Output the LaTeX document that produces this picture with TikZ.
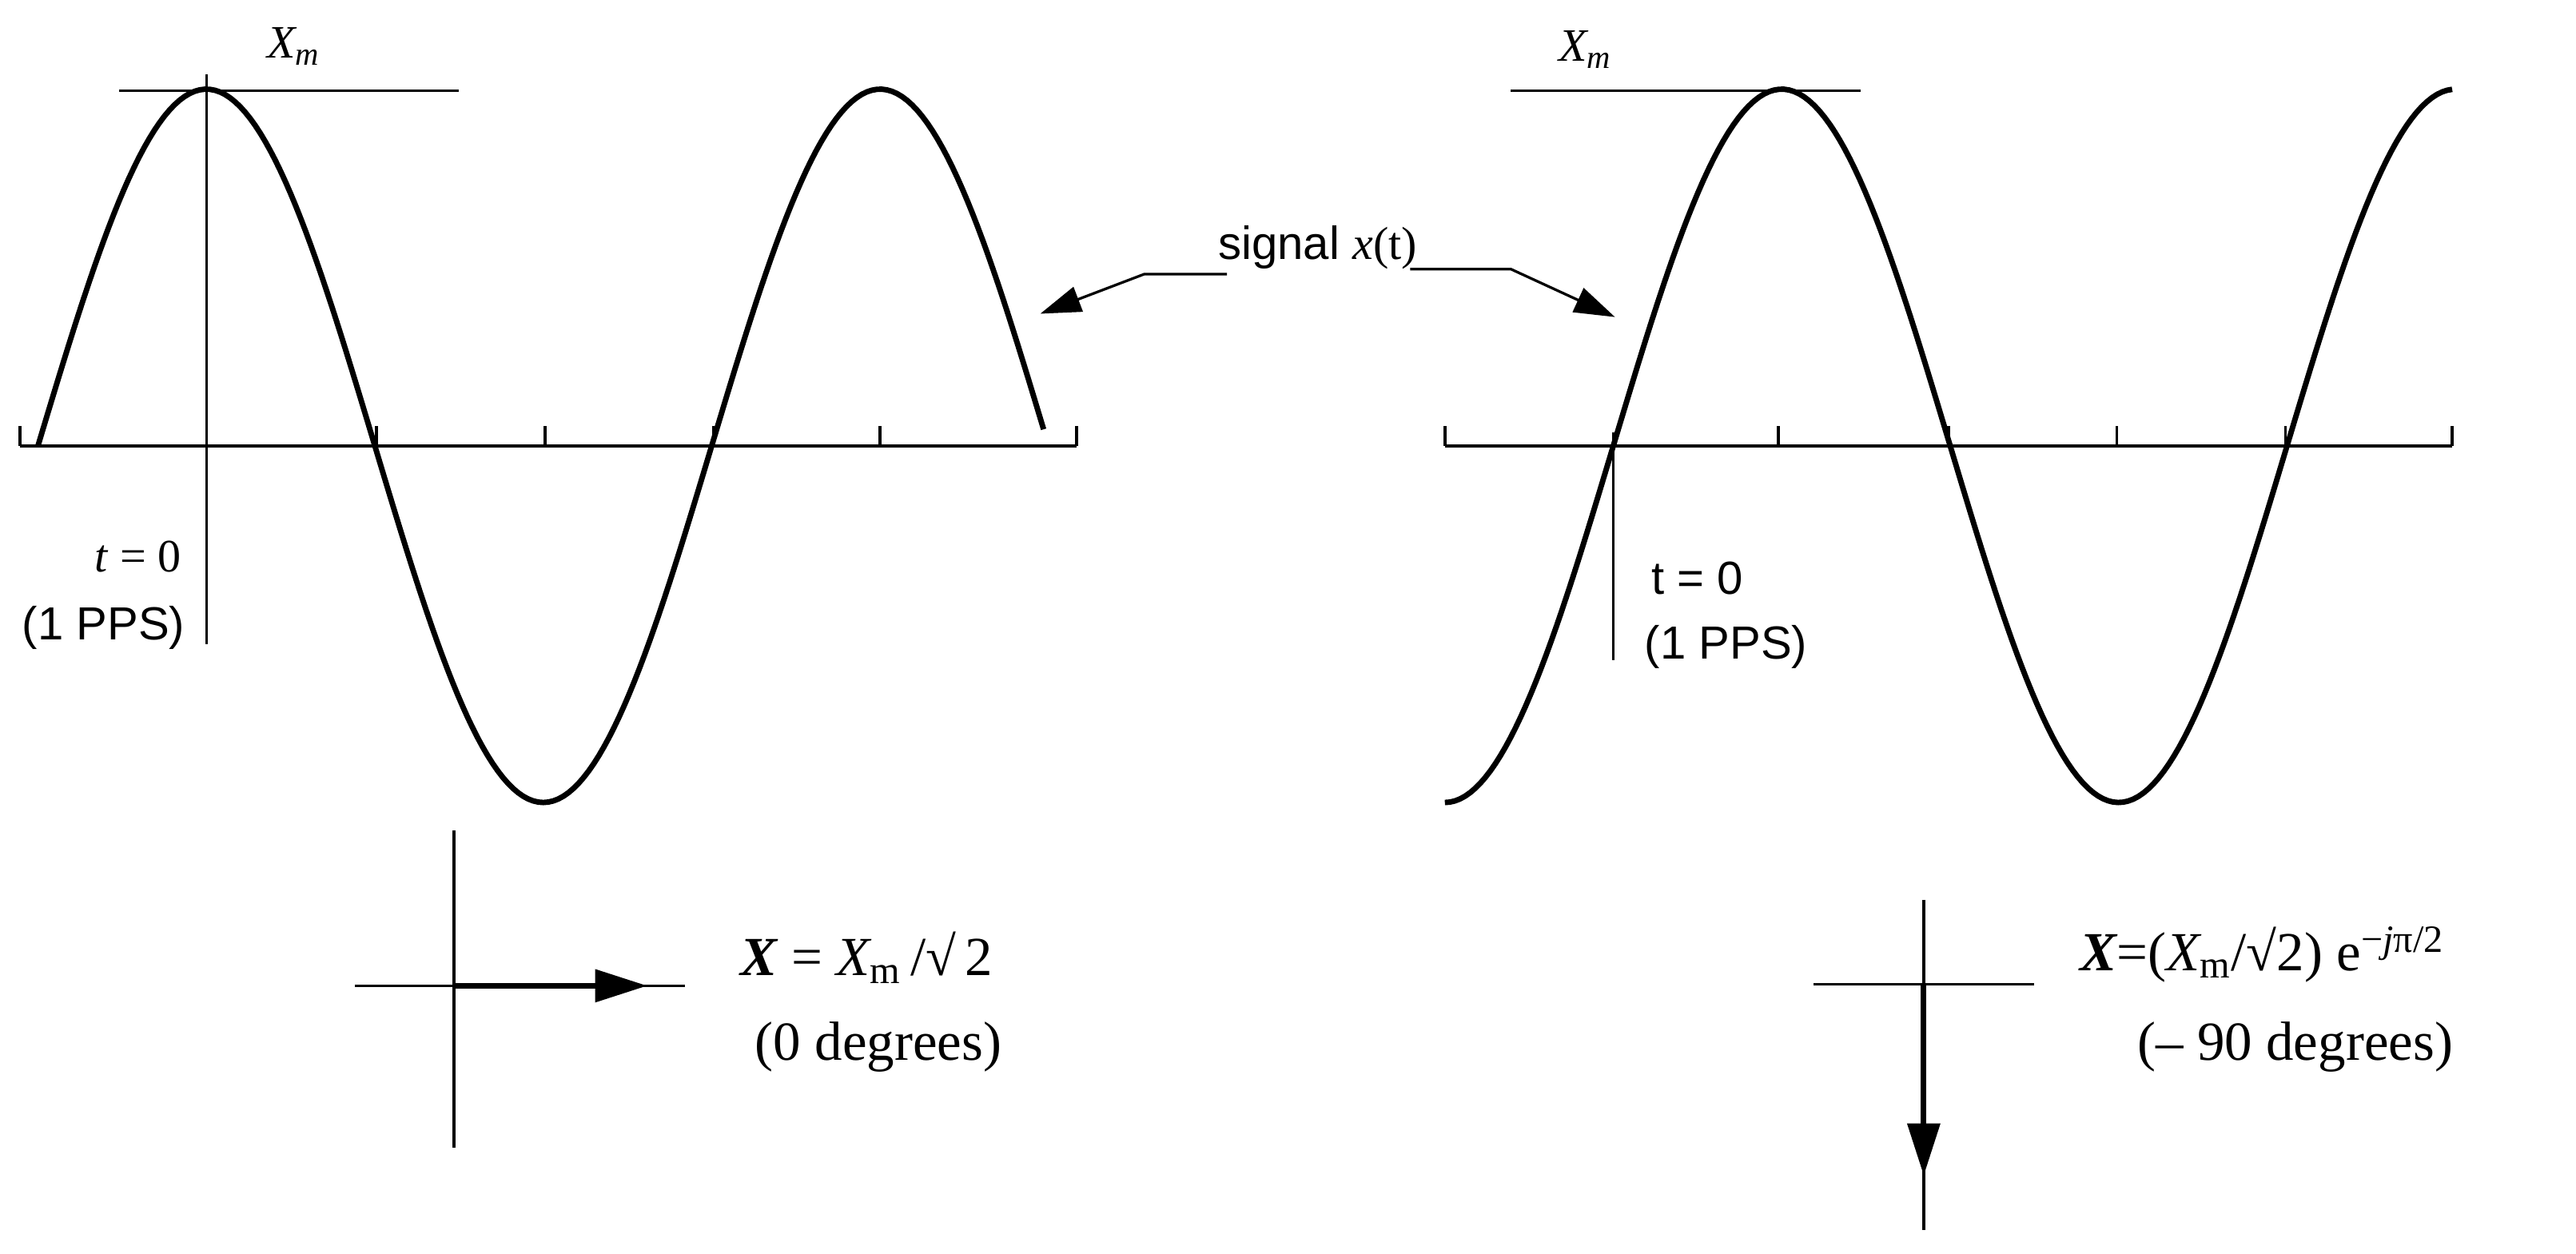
\documentclass[tikz,border=0pt]{standalone}
\usepackage{fontspec}
\setmainfont{Liberation Serif}
\setsansfont{Liberation Sans}
\usetikzlibrary{arrows.meta}
\begin{document}
\begin{tikzpicture}[x=0.02cm,y=-0.02cm,
  curve/.style={line width=1.9pt},
  axis/.style={line width=1pt},
  thin/.style={line width=0.7pt},
  lbl/.style={inner sep=1pt,font=\fontsize{16}{18}\selectfont},
  sflbl/.style={inner sep=1pt,font=\fontsize{16}{18}\selectfont\sffamily},
  big/.style={inner sep=1pt,font=\fontsize{19}{22}\selectfont},
  ptr/.style={line width=0.9pt,-{Triangle[length=14pt,width=9pt]}},
  phas/.style={line width=1.9pt,-{Triangle[length=18pt,width=11pt]}}]
\useasboundingbox (0,0) rectangle (1560,759);
% left plot
\draw[axis] (12,270) -- (652,270);
\foreach \t in {12,228,330,432,533,652} \draw[axis] (\t,258) -- (\t,270);
\draw[thin] (125,45) -- (125,390);
\draw[thin] (72,55) -- (278,55);
\node[lbl] (xm1) at (178,28) {\itshape X\textsubscript{m}};
\draw[curve] plot[domain=23:632,samples=200] (\x,{270-216*cos((\x-125)/408*360)});
\node[lbl,anchor=east] (t1) at (112,337) {\itshape t\/\upshape\ = 0};
\node[sflbl,anchor=east] (p1) at (114,380) {(1 PPS)};
% right plot
\draw[axis] (875,270) -- (1485,270);
\foreach \t in {875,1077,1180,1282,1384,1485} \draw[axis] (\t,258) -- (\t,270);
\draw[thin] (977,262) -- (977,400);
\draw[thin] (915,55) -- (1127,55);
\node[lbl] (xm2) at (960,30) {\itshape X\textsubscript{m}};
\draw[curve] plot[domain=875:1485,samples=200] (\x,{270+216*cos((\x-875)/408*360)});
\node[sflbl,anchor=west] (t2) at (998,350) {t = 0};
\node[sflbl,anchor=west] (p2) at (994,392) {(1 PPS)};
% signal label
\node[sflbl] (sig) at (798,150) {signal \rmfamily\itshape x\upshape(t)};
\coordinate (la) at (743,166); \coordinate (lb) at (693,166); \coordinate (lt) at (630,190);
\coordinate (ra) at (854,163); \coordinate (rb) at (915,163); \coordinate (rt) at (978,192);
\draw[ptr] (la) -- (lb) -- (lt);
\draw[ptr] (ra) -- (rb) -- (rt);
% left phasor
\draw[axis] (215,597) -- (415,597);
\draw[axis] (275,503) -- (275,695);
\coordinate (o1) at (275,597); \coordinate (e1) at (392,597);
\draw[phas] (o1) -- (e1);
\node[big] (f1) at (525,580) {{\bfseries\itshape X} = {\itshape X}\textsubscript{m}\,/√\,2};
\node[big] (d1) at (532,634) {(0 degrees)};
% right phasor
\draw[axis] (1098,596) -- (1232,596);
\draw[axis] (1165,545) -- (1165,745);
\coordinate (o2) at (1165,596); \coordinate (e2) at (1165,712);
\draw[phas] (o2) -- (e2);
\node[big] (f2) at (1370,578) {{\bfseries\itshape X}=({\itshape X}\textsubscript{m}/√2) e\textsuperscript{−{\itshape j}π/2}};
\node[big] (d2) at (1390,634) {(– 90 degrees)};
\end{tikzpicture}
\end{document}
